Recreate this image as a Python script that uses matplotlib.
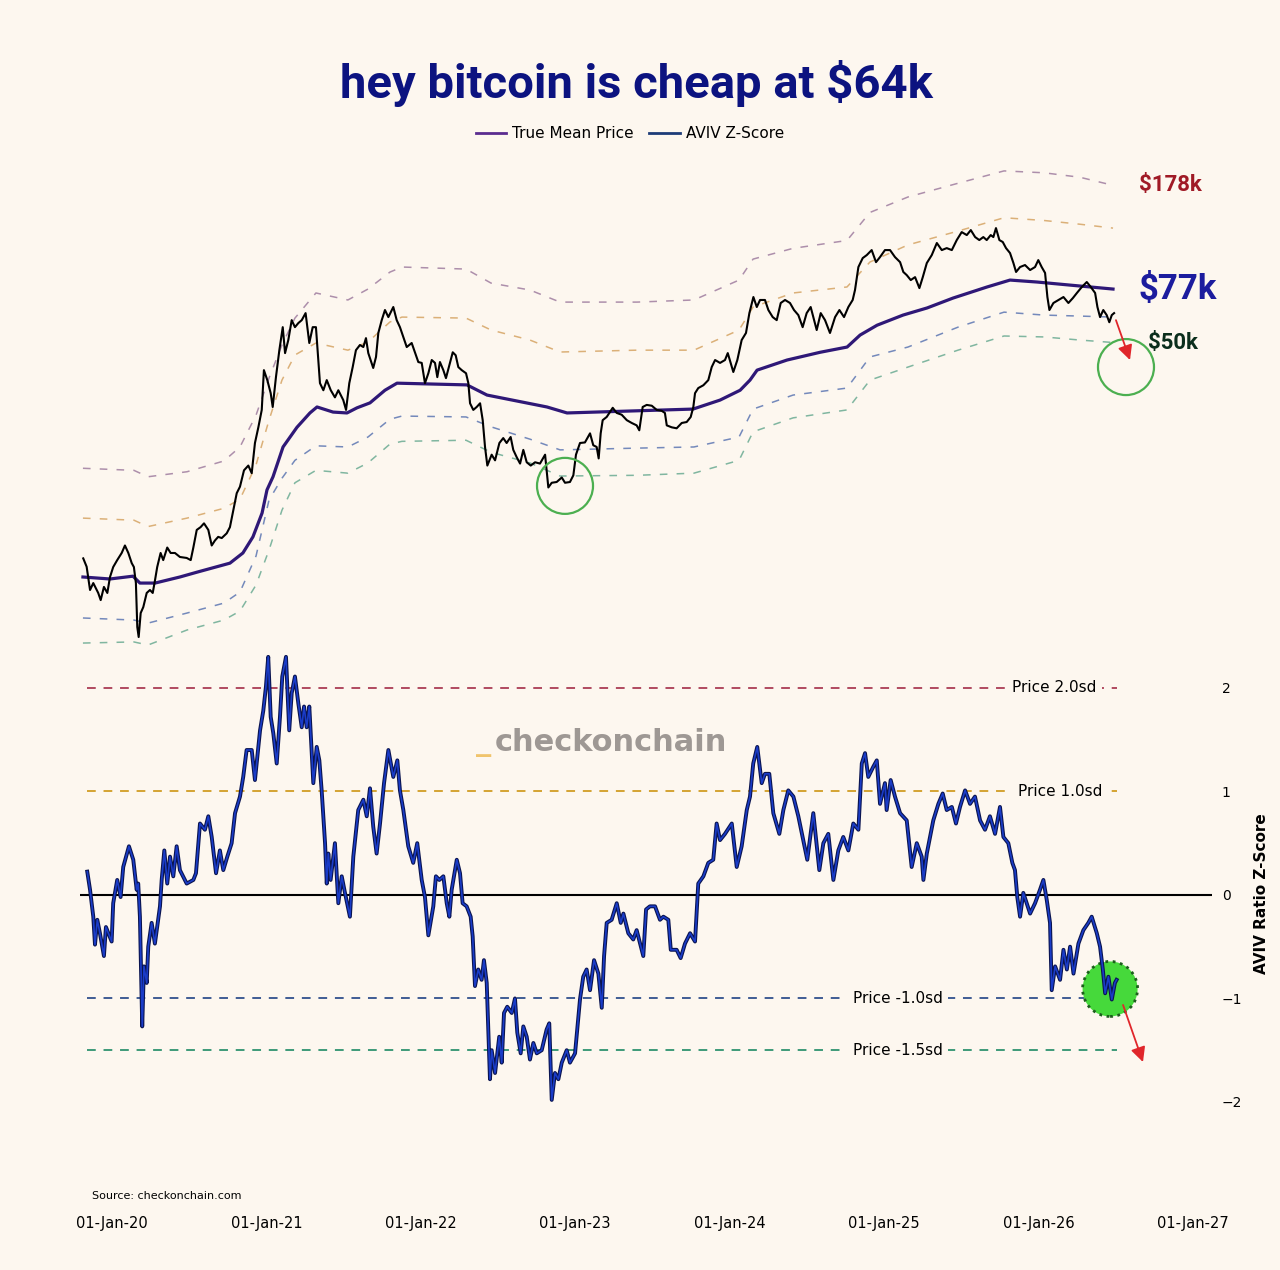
import matplotlib
matplotlib.use("Agg")
import matplotlib.pyplot as plt
import matplotlib.transforms as mtransforms
from matplotlib.lines import Line2D
from matplotlib.patches import Circle
from matplotlib.ticker import NullLocator

# ---- data (years as decimal years, prices in $k) ----
mean_years = [2019.812, 2019.987, 2020.136, 2020.181, 2020.279, 2020.440, 2020.551, 2020.764,
              2020.848, 2020.913, 2020.972, 2021.004, 2021.043, 2021.108, 2021.198, 2021.282,
              2021.328, 2021.432, 2021.522, 2021.587, 2021.671, 2021.768, 2021.846, 2022.299,
              2022.429, 2022.817, 2022.947, 2023.763, 2023.938, 2024.068, 2024.132, 2024.178,
              2024.372, 2024.586, 2024.761, 2024.845, 2024.955, 2025.123, 2025.279, 2025.447,
              2025.667, 2025.816, 2025.991, 2026.205, 2026.483]
true_mean = [7.52, 7.40, 7.57, 7.16, 7.16, 7.52, 7.82, 8.41,
             9.13, 10.4, 12.6, 15.2, 16.9, 21.5, 25.2, 28.3,
             29.7, 28.5, 28.3, 29.5, 30.7, 34.0, 36.0, 35.5,
             32.7, 29.7, 28.3, 29.2, 31.4, 34.0, 36.9, 40.0,
             43.4, 46.2, 48.2, 53.1, 57.5, 62.4, 66.1, 71.6,
             78.3, 82.8, 81.5, 79.5, 77.0]

band_years = [2019.812, 2020.142, 2020.233, 2020.486, 2020.725, 2020.829, 2020.933, 2021.017,
              2021.101, 2021.185, 2021.321, 2021.528, 2021.658, 2021.800, 2021.878, 2022.293,
              2022.455, 2022.707, 2022.902, 2023.400, 2023.769, 2024.061, 2024.152, 2024.411,
              2024.760, 2024.909, 2025.155, 2025.479, 2025.777, 2026.036, 2026.269, 2026.483]
band_p2 = [18.1, 17.8, 16.9, 17.6, 19.2, 21.5, 27.8, 37.5, 49.0, 60.9, 74.6, 70.5, 77.0, 88.3,
           92.0, 90.5, 80.8, 76.4, 69.3, 69.3, 70.5, 82.8, 98.1, 107, 114, 143, 162, 181, 200,
           197, 190, 178]
band_p1 = [12.1, 11.9, 11.3, 12.1, 13.1, 14.1, 18.6, 26.7, 36.9, 45.2, 49.8, 47.0, 50.2, 59.0,
           61.4, 60.9, 55.3, 51.0, 46.3, 47.0, 47.0, 55.3, 66.6, 74.6, 78.3, 95.8, 110, 123, 137,
           134, 130, 126]
band_m1 = [5.40, 5.31, 5.18, 5.62, 6.09, 6.66, 8.91, 14.0, 16.7, 19.3, 21.7, 21.5, 23.3, 26.9,
           27.6, 27.4, 25.3, 22.9, 21.0, 21.3, 21.5, 23.3, 29.2, 32.7, 34.6, 44.5, 48.2, 56.6,
           63.9, 62.4, 61.9, 61.4]
band_m15 = [4.41, 4.45, 4.34, 4.90, 5.31, 5.71, 7.05, 9.35, 12.9, 16.1, 17.8, 17.4, 18.9, 22.0,
            22.5, 22.7, 20.6, 18.9, 17.0, 17.1, 17.4, 19.3, 24.3, 27.2, 29.0, 36.9, 41.0, 47.0,
            52.7, 52.3, 51.0, 50.0]

price_years = [
    2019.814, 2019.836, 2019.858, 2019.879, 2019.911, 2019.927, 2019.948, 2019.970, 2019.987,
    2020.008, 2020.034, 2020.063, 2020.084, 2020.106, 2020.128, 2020.142, 2020.155, 2020.164,
    2020.173, 2020.186, 2020.203, 2020.225, 2020.246, 2020.264, 2020.279, 2020.293, 2020.315,
    2020.332, 2020.358, 2020.380, 2020.408, 2020.440, 2020.484, 2020.510, 2020.527, 2020.549,
    2020.574, 2020.596, 2020.624, 2020.646, 2020.667, 2020.688, 2020.711, 2020.743, 2020.764,
    2020.786, 2020.808, 2020.829, 2020.855, 2020.883, 2020.905, 2020.926, 2020.948, 2020.970,
    2020.984, 2021.006, 2021.028, 2021.041, 2021.062, 2021.084, 2021.106, 2021.121, 2021.142,
    2021.164, 2021.185, 2021.207, 2021.229, 2021.254, 2021.278, 2021.300, 2021.321, 2021.347,
    2021.369, 2021.391, 2021.417, 2021.444, 2021.466, 2021.498, 2021.516, 2021.537, 2021.559,
    2021.580, 2021.606, 2021.628, 2021.645, 2021.660, 2021.692, 2021.710, 2021.725, 2021.747,
    2021.768, 2021.790, 2021.822, 2021.844, 2021.865, 2021.887, 2021.909, 2021.941, 2021.962,
    2021.984, 2022.006, 2022.027, 2022.049, 2022.071, 2022.092, 2022.107, 2022.124, 2022.146,
    2022.163, 2022.189, 2022.207, 2022.226, 2022.243, 2022.265, 2022.293, 2022.308, 2022.319,
    2022.340, 2022.362, 2022.384, 2022.401, 2022.416, 2022.431, 2022.459, 2022.481, 2022.509,
    2022.534, 2022.556, 2022.582, 2022.599, 2022.621, 2022.643, 2022.664, 2022.686, 2022.712,
    2022.740, 2022.772, 2022.805, 2022.815, 2022.826, 2022.848, 2022.880, 2022.913, 2022.934,
    2022.966, 2022.988, 2023.005, 2023.031, 2023.063, 2023.096, 2023.117, 2023.139, 2023.152,
    2023.165, 2023.178, 2023.204, 2023.243, 2023.269, 2023.301, 2023.334, 2023.366, 2023.398,
    2023.415, 2023.437, 2023.463, 2023.496, 2023.528, 2023.560, 2023.581, 2023.593, 2023.625,
    2023.657, 2023.690, 2023.722, 2023.748, 2023.765, 2023.776, 2023.797, 2023.830, 2023.862,
    2023.884, 2023.906, 2023.938, 2023.970, 2023.988, 2024.024, 2024.050, 2024.078, 2024.106,
    2024.128, 2024.154, 2024.176, 2024.197, 2024.229, 2024.251, 2024.279, 2024.305, 2024.331,
    2024.359, 2024.391, 2024.417, 2024.445, 2024.473, 2024.499, 2024.525, 2024.542, 2024.564,
    2024.590, 2024.618, 2024.650, 2024.683, 2024.711, 2024.741, 2024.769, 2024.797, 2024.812,
    2024.834, 2024.862, 2024.888, 2024.920, 2024.948, 2024.974, 2025.006, 2025.039, 2025.071,
    2025.104, 2025.125, 2025.147, 2025.173, 2025.201, 2025.229, 2025.251, 2025.277, 2025.309,
    2025.342, 2025.374, 2025.406, 2025.439, 2025.471, 2025.503, 2025.536, 2025.562, 2025.590,
    2025.617, 2025.643, 2025.665, 2025.691, 2025.708, 2025.725, 2025.747, 2025.769, 2025.790,
    2025.816, 2025.838, 2025.855, 2025.881, 2025.913, 2025.946, 2025.978, 2025.999, 2026.021,
    2026.043, 2026.058, 2026.071, 2026.097, 2026.130, 2026.162, 2026.194, 2026.223, 2026.249,
    2026.281, 2026.313, 2026.339, 2026.367, 2026.382, 2026.399, 2026.420, 2026.442, 2026.459,
    2026.475, 2026.490]
price_k = [
    8.74, 8.17, 6.77, 7.16, 6.61, 6.24, 6.94, 6.61, 7.51,
    8.15, 8.62, 9.13, 9.70, 9.13, 8.41, 8.15, 7.16, 5.02,
    4.63, 5.62, 5.90, 6.61, 6.77, 6.61, 7.34, 8.15, 9.13,
    8.62, 9.54, 9.13, 9.13, 8.84, 8.77, 8.62, 9.54, 11.0,
    11.25, 11.6, 11.0, 9.70, 10.1, 10.4, 10.3, 10.7, 11.25,
    12.9, 14.8, 15.6, 17.8, 18.5, 17.4, 22.2, 25.2, 29.0,
    40.0, 36.9, 33.2, 29.7, 37.8, 47.0, 56.6, 45.9, 51.0,
    59.9, 56.6, 58.5, 59.9, 63.4, 49.8, 56.6, 56.6, 36.0,
    34.0, 36.9, 34.0, 32.1, 34.0, 31.4, 29.0, 36.0, 41.0,
    47.0, 49.0, 48.2, 51.8, 45.9, 40.7, 44.5, 54.0, 59.9,
    65.0, 61.4, 66.6, 59.9, 56.6, 52.3, 48.2, 49.8, 46.2,
    42.7, 42.4, 36.0, 39.0, 43.4, 42.4, 37.8, 42.7, 40.0,
    37.5, 42.4, 46.2, 45.1, 41.0, 40.0, 39.0, 36.0, 30.6,
    29.0, 29.7, 30.6, 26.7, 21.5, 18.5, 20.2, 19.3, 22.2,
    23.1, 22.2, 23.3, 21.0, 19.8, 18.8, 21.0, 19.0, 18.5,
    19.0, 18.8, 20.2, 17.8, 15.5, 16.1, 16.2, 16.8, 16.1,
    16.2, 17.1, 20.2, 22.2, 22.3, 24.0, 21.8, 21.5, 19.6,
    24.0, 26.7, 27.4, 29.5, 28.3, 27.9, 26.7, 26.1, 25.6,
    24.6, 29.7, 30.2, 30.0, 29.0, 28.8, 28.3, 25.6, 25.2,
    25.0, 26.1, 26.3, 27.4, 29.7, 33.2, 34.6, 35.4, 36.9,
    41.0, 43.4, 42.4, 43.4, 45.9, 39.4, 43.4, 51.0, 54.0,
    63.4, 72.2, 66.6, 70.5, 70.5, 65.0, 61.4, 59.9, 68.8,
    70.5, 68.8, 65.0, 62.4, 56.6, 63.4, 66.6, 61.4, 55.3,
    63.4, 59.9, 54.0, 61.4, 65.0, 61.4, 66.6, 70.5, 76.4,
    92.0, 98.9, 101.3, 105.5, 95.7, 99.7, 105.5, 105.5, 99.7,
    95.7, 88.4, 86.2, 82.8, 84.8, 77.6, 84.8, 95.0, 101.3,
    111.7, 105.5, 107.2, 105.5, 114.4, 122.0, 119.1, 124.0, 117.2,
    114.4, 117.2, 114.4, 119.1, 117.2, 126.0, 114.4, 112.6, 107.2,
    103.0, 95.0, 88.4, 92.0, 93.5, 89.8, 92.0, 97.3, 92.0,
    87.7, 72.2, 65.0, 68.8, 70.5, 72.2, 68.8, 71.6, 74.6,
    78.3, 81.5, 78.3, 74.6, 66.6, 61.4, 65.0, 62.4, 58.9,
    62.4, 63.4]

z_years = [
    2019.840, 2019.858, 2019.879, 2019.890, 2019.905, 2019.922, 2019.948, 2019.961, 2019.998,
    2020.008, 2020.034, 2020.056, 2020.073, 2020.110, 2020.138, 2020.160, 2020.170, 2020.181,
    2020.196, 2020.207, 2020.225, 2020.235, 2020.257, 2020.278, 2020.311, 2020.322, 2020.339,
    2020.358, 2020.376, 2020.397, 2020.419, 2020.440, 2020.484, 2020.527, 2020.544, 2020.570,
    2020.602, 2020.624, 2020.646, 2020.674, 2020.699, 2020.721, 2020.747, 2020.775, 2020.797,
    2020.829, 2020.850, 2020.872, 2020.905, 2020.926, 2020.959, 2020.980, 2020.997, 2021.012,
    2021.028, 2021.045, 2021.067, 2021.088, 2021.103, 2021.127, 2021.148, 2021.164, 2021.185,
    2021.207, 2021.229, 2021.244, 2021.261, 2021.278, 2021.304, 2021.326, 2021.343, 2021.358,
    2021.380, 2021.391, 2021.401, 2021.416, 2021.444, 2021.466, 2021.488, 2021.509, 2021.541,
    2021.563, 2021.595, 2021.628, 2021.650, 2021.671, 2021.692, 2021.714, 2021.736, 2021.762,
    2021.790, 2021.822, 2021.848, 2021.865, 2021.887, 2021.919, 2021.951, 2021.977, 2022.006,
    2022.027, 2022.049, 2022.081, 2022.098, 2022.120, 2022.146, 2022.168, 2022.185, 2022.200,
    2022.233, 2022.254, 2022.271, 2022.297, 2022.323, 2022.336, 2022.351, 2022.372, 2022.394,
    2022.409, 2022.427, 2022.448, 2022.459, 2022.481, 2022.508, 2022.524, 2022.539, 2022.560,
    2022.589, 2022.610, 2022.625, 2022.647, 2022.664, 2022.686, 2022.707, 2022.729, 2022.751,
    2022.783, 2022.815, 2022.832, 2022.848, 2022.869, 2022.891, 2022.913, 2022.945, 2022.966,
    2022.999, 2023.031, 2023.052, 2023.074, 2023.096, 2023.122, 2023.150, 2023.172, 2023.187,
    2023.204, 2023.236, 2023.269, 2023.295, 2023.312, 2023.344, 2023.376, 2023.398, 2023.441,
    2023.459, 2023.484, 2023.517, 2023.549, 2023.571, 2023.603, 2023.619, 2023.657, 2023.683,
    2023.711, 2023.744, 2023.776, 2023.797, 2023.830, 2023.862, 2023.894, 2023.916, 2023.938,
    2023.970, 2024.014, 2024.046, 2024.078, 2024.111, 2024.132, 2024.153, 2024.179, 2024.208,
    2024.229, 2024.257, 2024.283, 2024.322, 2024.348, 2024.380, 2024.413, 2024.445, 2024.477,
    2024.503, 2024.542, 2024.581, 2024.607, 2024.639, 2024.672, 2024.704, 2024.736, 2024.769,
    2024.801, 2024.834, 2024.856, 2024.877, 2024.898, 2024.931, 2024.953, 2024.974, 2025.006,
    2025.017, 2025.043, 2025.071, 2025.104, 2025.147, 2025.179, 2025.212, 2025.244, 2025.255,
    2025.277, 2025.298, 2025.319, 2025.352, 2025.380, 2025.406, 2025.439, 2025.466, 2025.492,
    2025.525, 2025.557, 2025.589, 2025.622, 2025.654, 2025.686, 2025.719, 2025.751, 2025.773,
    2025.805, 2025.831, 2025.848, 2025.863, 2025.881, 2025.902, 2025.924, 2025.946, 2025.978,
    2026.010, 2026.032, 2026.054, 2026.075, 2026.086, 2026.108, 2026.140, 2026.162, 2026.184,
    2026.205, 2026.227, 2026.259, 2026.291, 2026.323, 2026.345, 2026.378, 2026.399, 2026.417,
    2026.432, 2026.453, 2026.475, 2026.495, 2026.506]
z_score = [
    0.225, 0.05, -0.21, -0.48, -0.24, -0.37, -0.59, -0.31, -0.45,
    -0.08, 0.145, -0.02, 0.27, 0.47, 0.34, 0.05, 0.11, -0.21,
    -1.27, -0.69, -0.85, -0.50, -0.27, -0.47, -0.11, 0.145, 0.43,
    0.11, 0.37, 0.18, 0.47, 0.24, 0.11, 0.145, 0.21, 0.69,
    0.63, 0.76, 0.56, 0.21, 0.43, 0.24, 0.37, 0.50, 0.79,
    0.95, 1.14, 1.40, 1.40, 1.11, 1.59, 1.78, 2.01, 2.30,
    1.72, 1.56, 1.27, 1.72, 2.11, 2.30, 1.59, 1.95, 2.11,
    1.85, 1.62, 1.82, 1.62, 1.82, 1.08, 1.43, 1.30, 1.01,
    0.50, 0.11, 0.40, 0.145, 0.50, -0.08, 0.18, 0.02, -0.21,
    0.37, 0.82, 0.92, 0.76, 1.03, 0.66, 0.40, 0.69, 1.08,
    1.40, 1.14, 1.30, 1.01, 0.82, 0.47, 0.31, 0.50, 0.145,
    -0.02, -0.39, -0.11, 0.18, 0.145, 0.18, -0.08, -0.21, 0.05,
    0.34, 0.21, -0.08, -0.11, -0.21, -0.40, -0.88, -0.72, -0.82,
    -0.63, -0.85, -1.78, -1.50, -1.72, -1.37, -1.62, -1.14, -1.08,
    -1.14, -1.00, -1.33, -1.53, -1.27, -1.37, -1.59, -1.43, -1.53,
    -1.50, -1.30, -1.24, -1.98, -1.72, -1.78, -1.62, -1.50, -1.62,
    -1.53, -1.01, -0.79, -0.72, -0.92, -0.63, -0.76, -1.09, -0.59,
    -0.27, -0.24, -0.08, -0.27, -0.18, -0.37, -0.43, -0.34, -0.59,
    -0.14, -0.11, -0.11, -0.24, -0.21, -0.24, -0.53, -0.53, -0.61,
    -0.47, -0.37, -0.45, 0.11, 0.18, 0.31, 0.34, 0.69, 0.53,
    0.59, 0.69, 0.27, 0.47, 0.82, 0.95, 1.27, 1.43, 1.08,
    1.17, 1.17, 0.79, 0.59, 0.82, 1.01, 0.95, 0.76, 0.53,
    0.34, 0.79, 0.24, 0.50, 0.59, 0.145, 0.43, 0.56, 0.43,
    0.69, 0.63, 1.27, 1.37, 1.14, 1.24, 1.30, 0.88, 1.08,
    0.82, 1.11, 0.95, 0.79, 0.72, 0.27, 0.50, 0.37, 0.145,
    0.40, 0.56, 0.72, 0.88, 0.98, 0.82, 0.85, 0.69, 0.85,
    1.01, 0.88, 0.95, 0.72, 0.63, 0.76, 0.59, 0.85, 0.56,
    0.50, 0.31, 0.24, -0.02, -0.21, 0.02, -0.08, -0.18, -0.08,
    0.05, 0.145, -0.05, -0.27, -0.92, -0.69, -0.82, -0.53, -0.72,
    -0.50, -0.76, -0.47, -0.34, -0.27, -0.21, -0.37, -0.50, -0.72,
    -0.95, -0.79, -1.01, -0.85, -0.82]

sd_levels = [2.0, 1.0, -1.0, -1.5]
sd_labels = ["Price 2.0sd", "Price 1.0sd", "Price -1.0sd", "Price -1.5sd"]
tick_years = [2020, 2021, 2022, 2023, 2024, 2025, 2026, 2027]
tick_labels = ["01-Jan-20", "01-Jan-21", "01-Jan-22", "01-Jan-23",
               "01-Jan-24", "01-Jan-25", "01-Jan-26", "01-Jan-27"]

# highlighted spots: (year, value)
low_2022 = (2022.934, 15.7)
target_2026 = (2026.567, 41.0)
z_now = (2026.464, -0.908)

# ---- style ----
BG = "#fdf7ef"
NAVY = "#0c1380"
plt.rcParams["font.family"] = ["DejaVu Sans"]

fig = plt.figure(figsize=(12.8, 12.7), dpi=100, facecolor=BG)
ax_z = fig.add_axes([0.0625, 0.0512, 0.884375, 0.4386])
ax_p = fig.add_axes([0.0625, 0.4921, 0.884375, 0.3819], sharex=ax_z)
for ax in (ax_z, ax_p):
    ax.set_facecolor("none")
    for s in ax.spines.values():
        s.set_visible(False)

ax_z.set_xlim(2019.793, 2027.124)

# ---- top panel: price, true mean, bands (log scale) ----
ax_p.set_yscale("log")
ax_p.set_ylim(4.34, 218.4)
ax_p.yaxis.set_major_locator(NullLocator())
ax_p.yaxis.set_minor_locator(NullLocator())
ax_p.tick_params(axis="x", length=0, labelbottom=False)

band_dash = (0, (5, 6))
ax_p.plot(band_years, band_p2, color="#ad8fab", lw=1.1, ls=band_dash)
ax_p.plot(band_years, band_p1, color="#dbb078", lw=1.1, ls=band_dash)
ax_p.plot(band_years, band_m1, color="#7489bb", lw=1.1, ls=band_dash)
ax_p.plot(band_years, band_m15, color="#80b6a0", lw=1.1, ls=band_dash)
ax_p.plot(mean_years, true_mean, color="#2f1877", lw=2.3, zorder=3)
ax_p.plot(price_years, price_k, color="black", lw=1.5, zorder=4)

ax_p.annotate("$178k", xy=(band_years[-1], band_p2[-1]), xytext=(19, 0),
              textcoords="offset points", va="center", ha="left",
              fontsize=16, fontweight="bold", color="#a01a26", family="Roboto")
ax_p.annotate("$77k", xy=(mean_years[-1], true_mean[-1]), xytext=(18, 0),
              textcoords="offset points", va="center", ha="left",
              fontsize=25, fontweight="bold", color="#1c1c9e", family="Roboto")
ax_p.annotate("$50k", xy=(band_years[-1], band_m15[-1]), xytext=(25, 0),
              textcoords="offset points", va="center", ha="left",
              fontsize=16, fontweight="bold", color="#0b2e1c", family="Roboto")


def ring(ax, center, radius_in, **kw):
    trans = fig.dpi_scale_trans + mtransforms.ScaledTranslation(center[0], center[1], ax.transData)
    ax.add_patch(Circle((0, 0), radius_in, transform=trans, clip_on=False, **kw))


ring(ax_p, low_2022, 0.28, fill=False, edgecolor="#4caf50", lw=1.6, zorder=5)
ring(ax_p, target_2026, 0.28, fill=False, edgecolor="#4caf50", lw=1.6, zorder=5)
ax_p.annotate("", xy=(2026.593, 43.4), xytext=(2026.502, 59.9),
              arrowprops=dict(arrowstyle="-|>", color="#e0262b", lw=1.3,
                              mutation_scale=22, shrinkA=0, shrinkB=0), zorder=6)

# ---- bottom panel: AVIV ratio z-score ----
ax_z.set_ylim(-2.995, 2.386)
ax_z.axhline(0, color="black", lw=1.5, zorder=2)
level_colors = ["#b04a60", "#d4a332", "#3f5c94", "#3d9a78"]
label_x = [2026.10, 2026.14, 2025.09, 2025.09]
for lvl, lab, col, lx in zip(sd_levels, sd_labels, level_colors, label_x):
    ax_z.hlines(lvl, z_years[0], z_years[-1], colors=col, lw=1.4, linestyles=(0, (4.5, 4)), zorder=1)
    ax_z.text(lx, lvl, lab, ha="center", va="center", fontsize=11, color="black", zorder=3,
              bbox=dict(facecolor=BG, edgecolor="none", pad=4))

ring(ax_z, z_now, 0.275, facecolor="#46d93b", edgecolor="#1d5e1d", lw=2, ls=":", zorder=3)
ax_z.plot(z_years, z_score, color="#0a1450", lw=2.8, zorder=4)
ax_z.plot(z_years, z_score, color="#1a3cc8", lw=1.2, zorder=5)
ax_z.annotate("", xy=(2026.677, -1.614), xytext=(2026.548, -1.063),
              arrowprops=dict(arrowstyle="-|>", color="#e0262b", lw=1.3,
                              mutation_scale=22, shrinkA=0, shrinkB=0), zorder=6)

ax_z.yaxis.tick_right()
ax_z.set_yticks([-2, -1, 0, 1, 2])
ax_z.tick_params(axis="y", length=0, pad=7, labelsize=10)
ax_z.set_xticks(tick_years)
ax_z.set_xticklabels(tick_labels)
ax_z.tick_params(axis="x", length=0, pad=8, labelsize=10.5)

# ---- texts ----
fig.text(0.497, 0.9346, "hey bitcoin is cheap at $64k", ha="center", va="center",
         fontsize=34, fontweight="bold", color=NAVY, family="Roboto")
handles = [Line2D([], [], color="#5b2c8f", lw=2), Line2D([], [], color="#1d3c78", lw=2)]
fig.legend(handles, ["True Mean Price", "AVIV Z-Score"], loc="center",
           bbox_to_anchor=(0.492, 0.8945), ncol=2, frameon=False, fontsize=11,
           handlelength=2.0, handletextpad=0.4, columnspacing=1.0)
fig.text(1262 / 1280, 1 - 894 / 1270, "AVIV Ratio Z-Score", rotation=90, ha="center",
         va="center", fontsize=11, fontweight="bold")
fig.text(0.372, 0.415, "_", ha="left", va="center", fontsize=22, fontweight="bold", color="#f0c46c")
fig.text(0.3867, 0.415, "checkonchain", ha="left", va="center", fontsize=22,
         fontweight="bold", color="#9e9894")
fig.text(92 / 1280, 1 - 1196 / 1270, "Source: checkonchain.com", ha="left", va="center", fontsize=8)

fig.savefig("out.png", dpi=100, facecolor=BG)
